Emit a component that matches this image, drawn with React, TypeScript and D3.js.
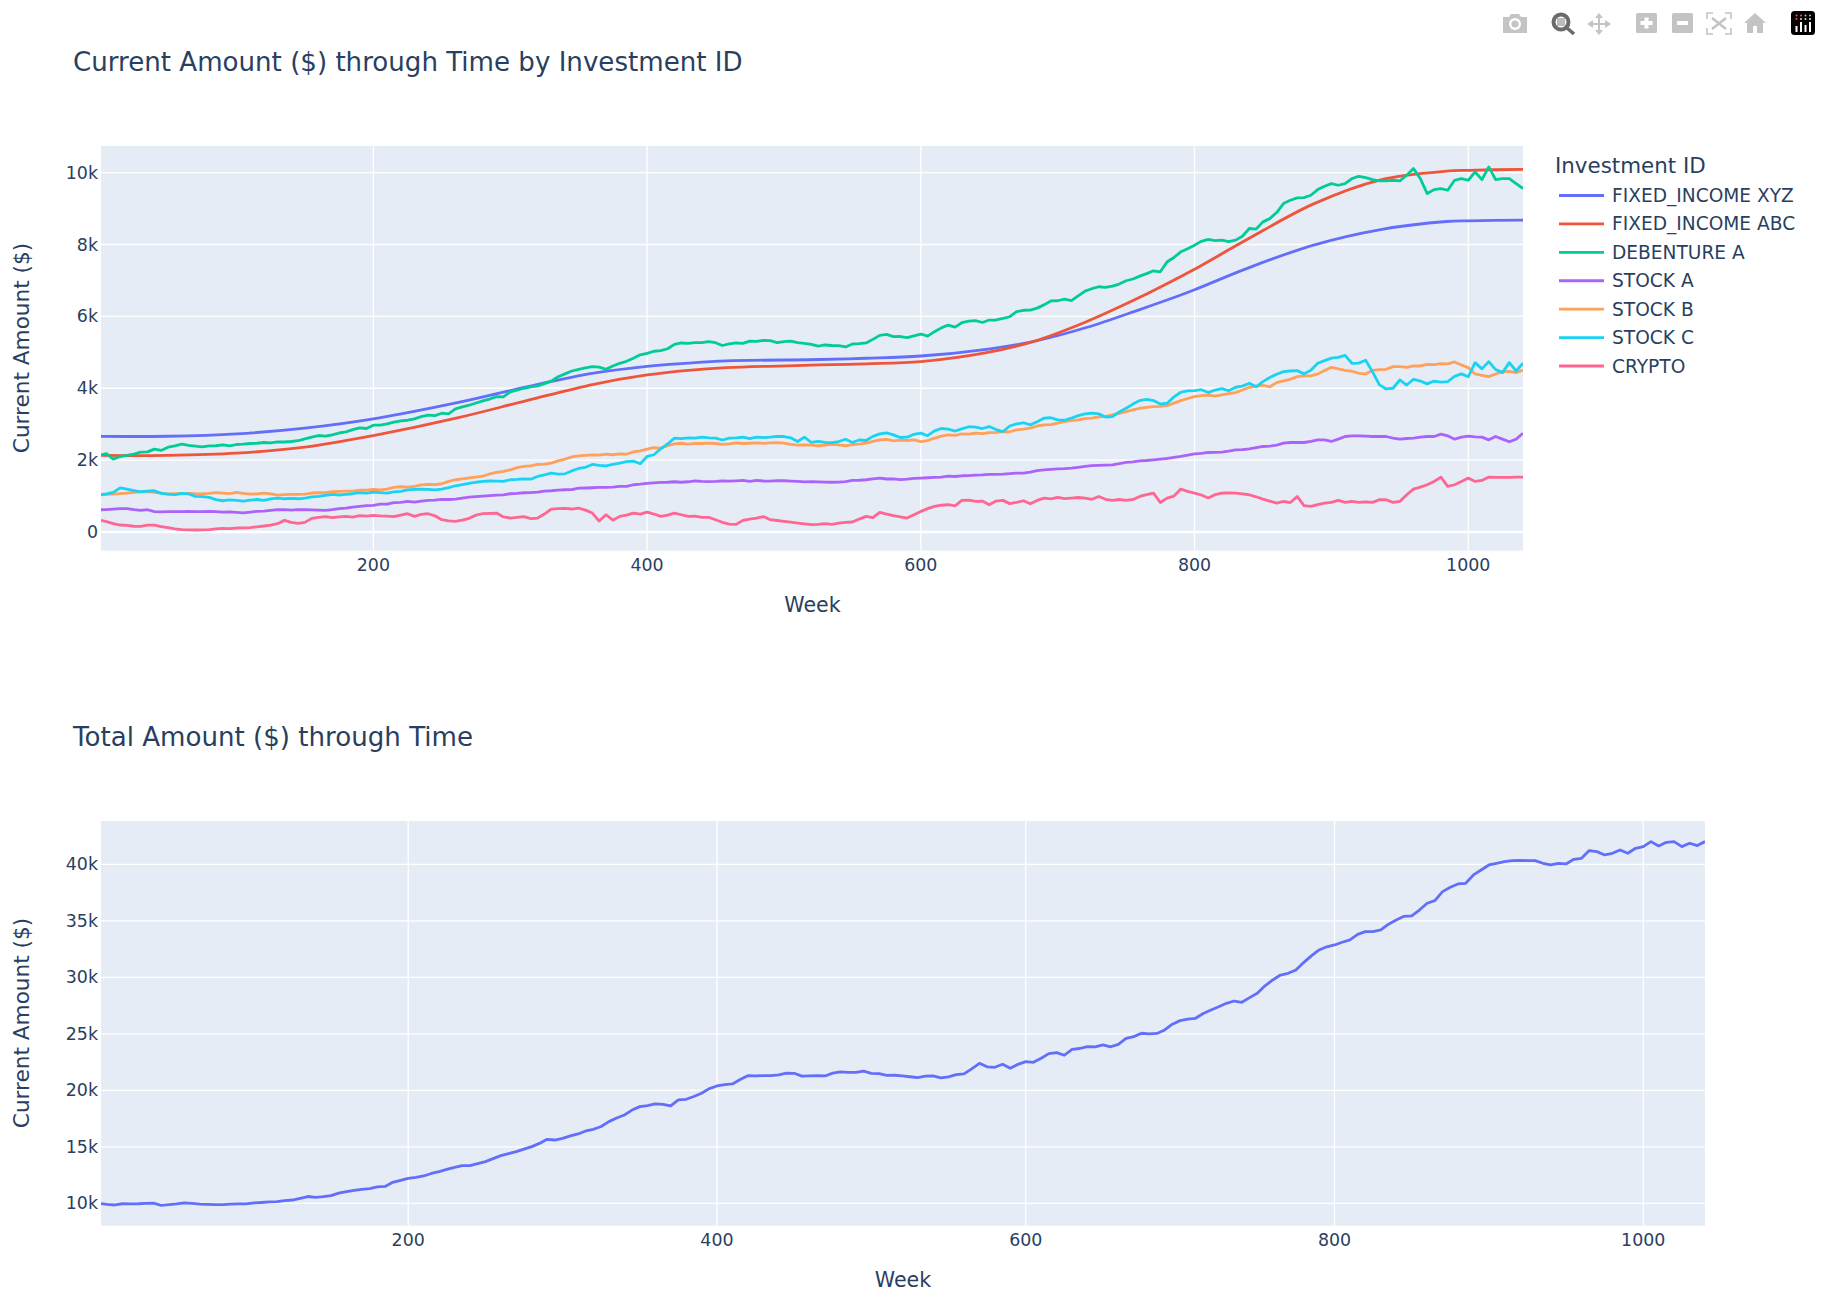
import React from "react";
import * as d3 from "d3";

const WEEKS = [1,5,10,15,20,25,30,35,40,45,50,55,60,65,70,75,80,85,90,95,100,105,110,115,120,125,130,135,140,145,150,155,160,165,170,175,180,185,190,195,200,205,210,215,220,225,230,235,240,245,250,255,260,265,
270,275,280,285,290,295,300,305,310,315,320,325,330,335,340,345,350,355,360,365,370,375,380,385,390,395,400,405,410,415,420,425,430,435,440,445,450,455,460,465,470,475,480,485,490,495,500,505,510,515,520,525,
530,535,540,545,550,555,560,565,570,575,580,585,590,595,600,605,610,615,620,625,630,635,640,645,650,655,660,665,670,675,680,685,690,695,700,705,710,715,720,725,730,735,740,745,750,755,760,765,770,775,780,785,790,795,
800,805,810,815,820,825,830,835,840,845,850,855,860,
865,870,875,880,885,890,895,900,905,910,915,920,925,930,935,940,945,950,955,960,965,970,975,980,985,990,995,1000,1005,1010,1015,1020,1025,1030,1035,1040];

const SMOOTH_WEEKS = [1,50,100,150,200,263,312,361,400,430,458,526,560,600,648,682,721,760,789,800,838,887,936,984,1000,1040];
const FIXED_XYZ = [2660,2665,2731,2890,3148,3611,4040,4420,4610,4700,4760,4800,4835,4898,5085,5300,5690,6190,6580,6740,7330,7985,8417,8640,8660,8677];
const FIXED_ABC = [2130,2135,2195,2361,2685,3190,3657,4110,4370,4500,4574,4648,4680,4741,4990,5300,5852,6530,7090,7310,8130,9130,9800,10040,10065,10093];

const DEBENTURE_A = [2148,2180,2028,2100,2130,2170,2222,2230,2306,2270,2361,2395,2445,2410,2389,2370,2398,2400,2426,2395,2435,2445,2463,2470,2491,2480,2510,2505,2519,2540,2593,2640,2685,2670,2704,2755,2787,2850,2898,2880,2972,2975,3010,3060,3093,3110,3148,3210,3250,3240,3306,3290,3426,3480,
3528,3590,3648,3700,3769,3760,3898,3950,4000,4040,4065,4130,4200,4320,4400,4480,4528,4570,4602,4590,4530,4620,4695,4750,4833,4930,4972,5030,5046,5100,5222,5260,5250,5270,5268,5300,5268,5190,5232,5260,5250,5310,5306,5330,5324,5270,5296,5310,5268,5250,5222,5175,
5204,5190,5185,5150,5232,5240,5260,5360,5472,5500,5435,5440,5407,5460,5509,5450,5574,5680,5759,5700,5824,5870,5880,5830,5898,5900,5945,5990,6130,6170,6176,6230,6320,6430,6435,6480,6440,6570,6704,6770,6824,6810,6843,6900,6991,7040,7120,7190,7269,7240,7519,7640,7797,7880,
7982,8090,8140,8110,8121,8080,8121,8230,8445,8430,8630,8720,8889,
9140,9232,9297,9306,9371,9528,9621,9695,9649,9695,9834,9898,9861,9806,9769,9769,9788,9769,9927,10112,9834,9417,9528,9556,9510,9788,9834,9788,10019,9806,10158,9806,9834,9834,9695,9556];

const STOCK_A = [620,625,639,650,648,620,602,620,565,560,565,570,565,575,565,570,574,565,556,560,546,535,556,575,583,600,620,625,611,625,620,615,611,600,620,650,667,690,713,735,741,775,778,820,824,850,833,860,880,890,907,905,917,945,
972,985,1000,1015,1028,1035,1065,1075,1093,1095,1111,1140,1148,1165,1176,1180,1222,1225,1231,1240,1241,1250,1268,1270,1315,1330,1352,1365,1380,1385,1398,1385,1398,1420,1407,1400,1407,1420,1417,1425,1435,1410,1435,1420,1417,1430,1426,1415,1407,1395,1398,1395,
1389,1385,1389,1400,1435,1440,1454,1480,1500,1475,1481,1460,1472,1490,1500,1510,1518,1530,1555,1545,1565,1570,1583,1590,1602,1605,1611,1625,1639,1640,1667,1710,1731,1745,1759,1765,1778,1800,1824,1845,1852,1860,1870,1900,1935,1950,1981,1990,2009,2030,2046,2075,2102,2140,
2176,2190,2213,2215,2222,2250,2287,2290,2315,2350,2380,2390,2417,
2472,2491,2491,2491,2519,2565,2565,2519,2584,2658,2676,2676,2667,2658,2658,2658,2611,2584,2602,2611,2639,2658,2658,2722,2676,2584,2639,2667,2648,2639,2565,2658,2584,2510,2584,2750];

const STOCK_B = [1037,1045,1056,1070,1083,1105,1120,1125,1102,1080,1056,1065,1065,1075,1065,1060,1074,1095,1083,1070,1102,1075,1056,1060,1083,1060,1028,1040,1046,1050,1056,1085,1093,1095,1120,1130,1139,1135,1167,1165,1185,1175,1195,1240,1259,1250,1269,1310,1324,1320,1343,1410,1454,1480,
1509,1530,1555,1615,1657,1690,1731,1790,1824,1840,1879,1890,1916,1980,2028,2090,2120,2135,2148,2140,2167,2150,2176,2165,2231,2260,2305,2345,2333,2400,2454,2470,2444,2465,2463,2475,2463,2440,2454,2480,2463,2470,2481,2465,2481,2490,2472,2440,2416,2425,2416,2400,
2417,2440,2426,2400,2435,2445,2472,2520,2565,2580,2537,2555,2546,2565,2518,2545,2611,2670,2704,2690,2731,2725,2750,2740,2768,2775,2796,2790,2843,2860,2889,2950,2981,2990,3028,3075,3102,3120,3157,3170,3204,3215,3259,3300,3352,3400,3444,3470,3491,3495,3518,3585,3657,3715,
3769,3795,3806,3780,3815,3850,3880,3950,4028,4060,4084,4040,4158,
4204,4250,4324,4343,4343,4398,4491,4584,4537,4500,4473,4417,4398,4500,4519,4528,4602,4602,4584,4620,4620,4667,4660,4685,4680,4732,4648,4574,4398,4361,4324,4398,4463,4470,4435,4510];

const STOCK_C = [1037,1060,1102,1230,1195,1150,1120,1140,1148,1075,1056,1040,1074,1060,991,985,963,900,870,895,880,860,889,905,880,920,945,925,935,925,945,975,991,1020,1046,1030,1046,1065,1093,1080,1111,1095,1083,1115,1130,1170,1185,1195,1185,1170,1195,1235,1287,1320,
1352,1385,1407,1420,1416,1410,1454,1465,1481,1470,1546,1590,1639,1610,1620,1700,1768,1800,1879,1855,1842,1880,1916,1960,1972,1900,2102,2150,2315,2450,2611,2600,2620,2610,2639,2620,2611,2560,2611,2620,2639,2600,2639,2625,2639,2660,2657,2620,2518,2640,2491,2520,
2491,2490,2518,2580,2491,2560,2546,2660,2731,2760,2704,2630,2639,2720,2750,2680,2815,2880,2861,2810,2870,2930,2917,2880,2935,2850,2796,2950,3009,3040,2981,3070,3167,3180,3120,3110,3167,3240,3287,3310,3287,3200,3213,3340,3444,3560,3657,3690,3657,3560,3583,3760,3889,3930,
3936,3960,3880,3950,3991,3930,4028,4060,4139,4040,4185,4300,4390,
4463,4480,4491,4400,4500,4695,4770,4840,4861,4917,4695,4700,4780,4463,4100,3980,4000,4230,4090,4250,4200,4121,4200,4170,4185,4330,4400,4320,4713,4540,4741,4520,4435,4713,4480,4695];

const CRYPTO = [324,290,231,195,185,160,157,190,194,150,120,90,65,60,56,60,65,85,102,95,111,115,120,145,167,190,231,324,269,240,269,380,407,430,398,420,435,415,454,440,463,450,444,430,470,509,435,490,509,450,343,310,296,330,
380,470,509,520,528,420,389,410,426,370,389,500,639,650,657,640,667,610,528,305,481,330,435,470,528,500,555,500,435,470,528,480,435,440,407,410,342,270,222,210,324,360,389,430,342,320,296,275,250,225,204,215,
231,215,250,270,278,360,435,400,546,500,454,420,389,480,574,650,713,745,759,730,880,885,852,860,759,860,880,790,824,870,787,880,944,925,963,930,944,960,944,910,990,910,880,905,880,905,990,1040,1083,820,944,1000,1194,1130,
1083,1030,945,1040,1083,1090,1083,1060,1037,980,917,860,806,
850,820,990,732,713,759,806,824,880,824,852,824,840,824,898,898,824,852,1037,1195,1250,1315,1407,1528,1269,1315,1407,1500,1407,1435,1528,1520,1520,1520,1528,1528];

const TOTAL = [9970,9900,9850,9960,9940,9960,10000,10010,9820,9880,9940,10030,10000,9930,9910,9890,9880,9920,9940,9950,10030,10070,10118,10140,10236,10290,10442,10600,10531,10590,10678,10900,11032,11150,11239,11290,11445,11490,11858,12030,12212,12290,12419,12640,12802,13000,13186,13340,13333,13510,13688,13950,14218,14400,
14572,14790,15015,15300,15664,15600,15752,15960,16136,16400,16549,16800,17227,17550,17817,18250,18555,18650,18791,18750,18614,19150,19204,19450,19735,20150,20384,20500,20561,20950,21298,21270,21298,21300,21357,21520,21505,21250,21269,21300,21269,21520,21623,21580,21593,21700,21505,21480,21328,21330,21269,21200,
21122,21250,21269,21100,21180,21380,21446,21900,22390,22080,22036,22300,21948,22300,22537,22480,22832,23250,23334,23100,23629,23700,23865,23850,24012,23850,24071,24600,24750,25050,24986,25030,25340,25850,26166,26300,26372,26800,27110,27400,27700,27900,27788,28200,28585,29250,29765,30200,30355,30650,31300,31900,32420,32700,
32862,33100,33305,33800,34043,34050,34190,34700,35075,35400,35429,35950,36550,
36786,37583,37966,38261,38320,39058,39500,39942,40090,40238,40326,40356,40326,40326,40090,39942,40090,40031,40444,40532,41211,41120,40826,40974,41270,40974,41417,41565,42008,41624,41949,42008,41565,41860,41654,42008];

const SERIES = [
  { name: "FIXED_INCOME XYZ", color: "#636efa", weeks: SMOOTH_WEEKS, values: FIXED_XYZ, smooth: true },
  { name: "FIXED_INCOME ABC", color: "#EF553B", weeks: SMOOTH_WEEKS, values: FIXED_ABC, smooth: true },
  { name: "DEBENTURE A", color: "#00cc96", weeks: WEEKS, values: DEBENTURE_A, smooth: false },
  { name: "STOCK A", color: "#ab63fa", weeks: WEEKS, values: STOCK_A, smooth: false },
  { name: "STOCK B", color: "#FFA15A", weeks: WEEKS, values: STOCK_B, smooth: false },
  { name: "STOCK C", color: "#19d3f3", weeks: WEEKS, values: STOCK_C, smooth: false },
  { name: "CRYPTO", color: "#FF6692", weeks: WEEKS, values: CRYPTO, smooth: false },
];

const X_TICKS = [200, 400, 600, 800, 1000];
const TOP_Y_TICKS = [0, 2000, 4000, 6000, 8000, 10000];
const BOTTOM_Y_TICKS = [10000, 15000, 20000, 25000, 30000, 35000, 40000];
const WEEK_DOMAIN: [number, number] = [1, 1040];

const FONT = "'DejaVu Sans', Verdana, sans-serif";
const INK = "#2a3f5f";
const fmtK = (v: number) => (v === 0 ? "0" : `${v / 1000}k`);

function Panel({ id, left, right, top, bottom, yTicks, titleX, titleY, title, weekX, weekY, yTitleY, children, xs, ys }: any) {
  return (
    <g>
      <text x={titleX} y={titleY} fontSize={26.1} fill={INK} dominantBaseline="central">{title}</text>
      <rect x={left} y={top} width={right - left} height={bottom - top} fill="#E5ECF6" />
      {X_TICKS.map((t) => (
        <line key={t} x1={xs(t)} x2={xs(t)} y1={top} y2={bottom} stroke="#fff" strokeWidth={1.3} />
      ))}
      {yTicks.map((t: number) => (
        <line key={t} x1={left} x2={right} y1={ys(t)} y2={ys(t)} stroke="#fff" strokeWidth={t === 0 ? 2.6 : 1.3} />
      ))}
      <clipPath id={id}><rect x={left} y={top} width={right - left} height={bottom - top} /></clipPath>
      <g clipPath={`url(#${id})`}>{children}</g>
      {X_TICKS.map((t) => (
        <text key={t} x={xs(t)} y={bottom + 14.5} fontSize={17.4} fill={INK} textAnchor="middle" dominantBaseline="central">{t}</text>
      ))}
      {yTicks.map((t: number) => (
        <text key={t} x={left - 3} y={ys(t)} fontSize={17.4} fill={INK} textAnchor="end" dominantBaseline="central">{fmtK(t)}</text>
      ))}
      <text x={weekX} y={weekY} fontSize={20.6} fill={INK} textAnchor="middle" dominantBaseline="central">Week</text>
      <text transform={`translate(21,${yTitleY}) rotate(-90)`} fontSize={21.6} fill={INK} textAnchor="middle" dominantBaseline="central">Current Amount ($)</text>
    </g>
  );
}

function Modebar() {
  const g = "#c4c4c4";
  return (
    <g>
      <path d="M1503 17h6l2-3h8l2 3h6v16h-24z" fill={g} />
      <circle cx="1515" cy="24" r="6" fill="#fff" />
      <circle cx="1515" cy="24" r="3.6" fill={g} />
      <circle cx="1561" cy="22" r="7.5" fill="none" stroke="#6b6b6b" strokeWidth="4" />
      <rect x="1557" y="18" width="8" height="8" fill="#6b6b6b" opacity="0.45" />
      <line x1="1567" y1="28" x2="1574" y2="34" stroke="#6b6b6b" strokeWidth="3.6" />
      <path d="M1599 13l4 5h-3v5h5v-3l6 4-6 4v-3h-5v5h3l-4 5-4-5h3v-5h-5v3l-6-4 6-4v3h5v-5h-3z" fill={g} />
      <rect x="1636" y="13" width="21" height="20" rx="1.5" fill={g} />
      <path d="M1644.5 17.5h4v3.5h4v4h-4v3.5h-4v-3.5h-4v-4h4z" fill="#fff" />
      <rect x="1672" y="13" width="21" height="20" rx="1.5" fill={g} />
      <rect x="1677" y="21" width="11" height="4" fill="#fff" />
      <path d="M1713 13h-6v6M1725 13h6v6M1713 34h-6v-6M1725 34h6v-6" fill="none" stroke={g} strokeWidth="1.6" />
      <path d="M1712 18l14 11M1726 18l-14 11" stroke={g} strokeWidth="2.6" />
      <path d="M1755 13l11 10h-3v10h-6v-7h-4v7h-6V23h-3z" fill={g} />
      <rect x="1791" y="11" width="24" height="24" rx="3.5" fill="#000" />
      {[1796.5, 1801, 1805.5, 1810].map((x, i) => (
        <g key={x}>
          <circle cx={x} cy={15.5} r="1" fill={i < 2 ? "#f54" : "#bbb"} />
          <circle cx={x} cy={19} r="1" fill={i === 0 ? "#f54" : "#ddd"} />
          <rect x={x - 1} y={[26, 22, 25, 22][i]} width="2" height={[6, 10, 7, 10][i]} fill="#fff" />
        </g>
      ))}
    </g>
  );
}

export default function App() {
  const top = { left: 101, right: 1523, top: 146, bottom: 550.7 };
  const bot = { left: 101, right: 1705, top: 821, bottom: 1225.7 };

  const xTop = d3.scaleLinear().domain(WEEK_DOMAIN).range([top.left, top.right]);
  const yTop = d3.scaleLinear().domain([-520, 10741]).range([top.bottom, top.top]);
  const xBot = d3.scaleLinear().domain(WEEK_DOMAIN).range([bot.left, bot.right]);
  const yBot = d3.scaleLinear().domain([8017, 43832]).range([bot.bottom, bot.top]);

  const pathFor = (weeks: number[], values: number[], smooth: boolean) =>
    d3.line<number>()
      .x((_, i) => xTop(weeks[i]))
      .y((d) => yTop(d))
      .curve(smooth ? d3.curveCatmullRom : d3.curveLinear)(values) as string;

  const totalPath = d3.line<number>()
    .x((_, i) => xBot(WEEKS[i]))
    .y((d) => yBot(d))(TOTAL) as string;

  const legendY = d3.scalePoint<string>().domain(SERIES.map((s) => s.name)).range([195.5, 366]);

  return (
    <svg width={1822} height={1300} viewBox="0 0 1822 1300" fontFamily={FONT}
      style={{ position: "absolute", left: 0, top: 0, display: "block", background: "#fff" }}>
      <Modebar />
      <Panel id="clipTop" {...top} yTicks={TOP_Y_TICKS} xs={xTop} ys={yTop}
        titleX={73} titleY={62} title="Current Amount ($) through Time by Investment ID"
        weekX={812.5} weekY={605} yTitleY={348}>
        {SERIES.map((s) => (
          <path key={s.name} d={pathFor(s.weeks, s.values, s.smooth)} fill="none" stroke={s.color}
            strokeWidth={2.8} strokeLinejoin="round" />
        ))}
      </Panel>
      <Panel id="clipBot" {...bot} yTicks={BOTTOM_Y_TICKS} xs={xBot} ys={yBot}
        titleX={73} titleY={737} title="Total Amount ($) through Time"
        weekX={903} weekY={1280} yTitleY={1023}>
        <path d={totalPath} fill="none" stroke="#636efa" strokeWidth={2.8} strokeLinejoin="round" />
      </Panel>
      <text x={1555} y={165} fontSize={21.4} fill={INK} dominantBaseline="central">Investment ID</text>
      {SERIES.map((s) => {
        const y = legendY(s.name) as number;
        return (
          <g key={s.name}>
            <line x1={1559} x2={1604} y1={y} y2={y} stroke={s.color} strokeWidth={2.8} />
            <text x={1612} y={y} fontSize={18.6} fill={INK} dominantBaseline="central">{s.name}</text>
          </g>
        );
      })}
    </svg>
  );
}
